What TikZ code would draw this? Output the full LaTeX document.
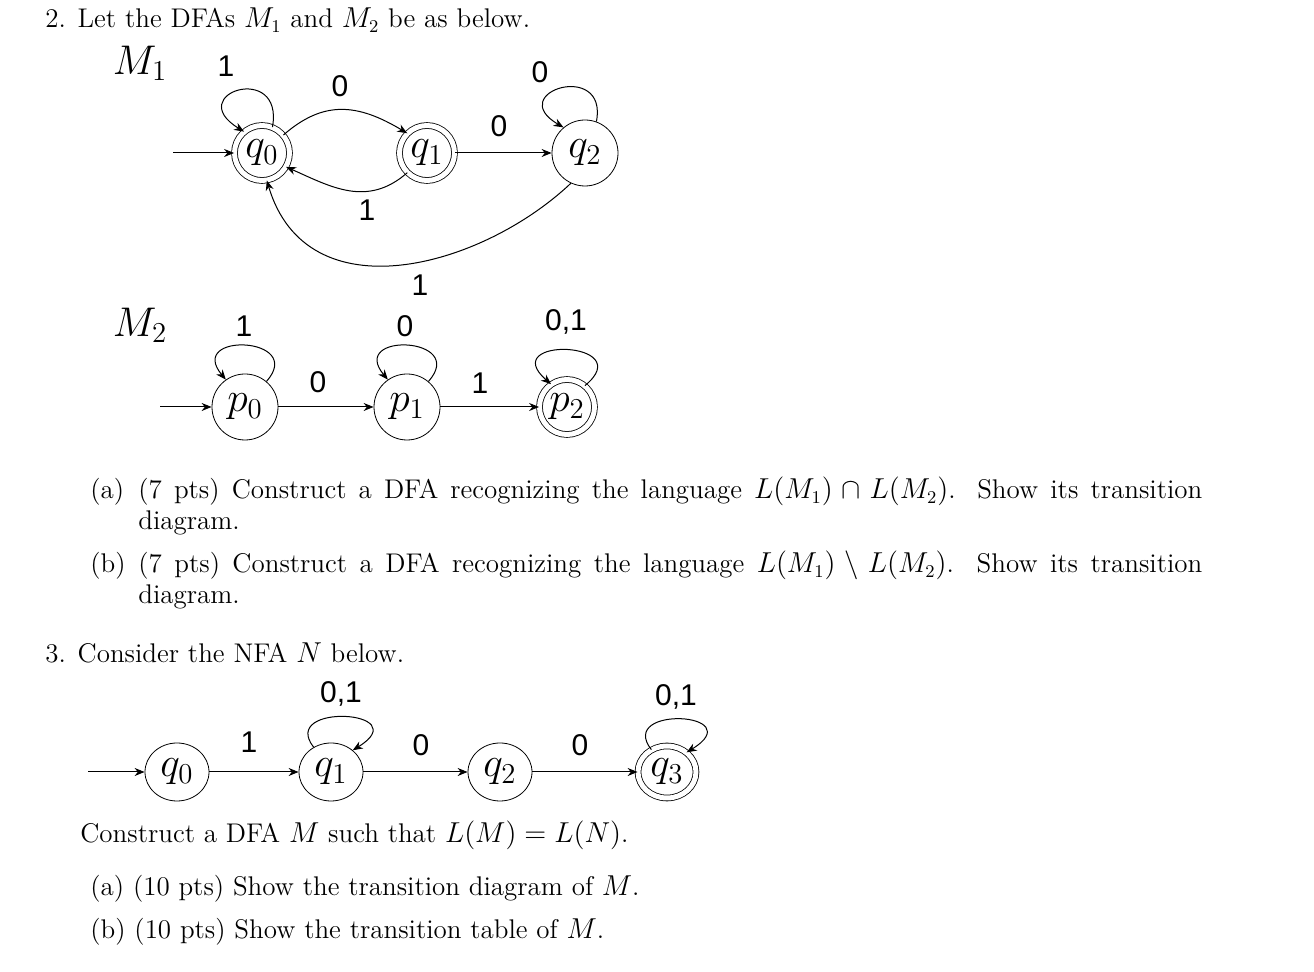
\documentclass[tikz,border=0pt]{standalone}
\usepackage{fontspec}
\newfontfamily\lab{Liberation Sans}
\usetikzlibrary{arrows.meta,shapes.geometric}
\begin{document}
\begin{tikzpicture}[x=0.5pt,y=0.5pt,
  st/.style={draw,circle,inner sep=0pt,minimum size=33pt,font=\fontsize{22}{24}\selectfont},
  acc/.style={st,double,double distance=2.5pt,minimum size=27.5pt},
  est/.style={draw,ellipse,inner sep=0pt,minimum width=32pt,minimum height=29pt,font=\fontsize{22}{24}\selectfont},
  eacc/.style={est,double,double distance=2.5pt,minimum width=29pt,minimum height=26pt},
  tr/.style={-{Stealth[length=5pt,width=4pt]},line width=0.5pt},
  lb/.style={font=\lab\fontsize{15}{17}\selectfont,inner sep=0pt},
  tx/.style={anchor=base west,inner sep=0pt,font=\fontsize{13.5}{16}\selectfont},
  big/.style={inner sep=0pt,font=\fontsize{20}{22}\selectfont}]
\useasboundingbox (0,0) rectangle (1314,-972);
% ---- texts
\node[tx] (t1) at (45,-28) {2. Let the DFAs $M_1$ and $M_2$ be as below.};
\node[big] (m1) at (140,-63) {$M_1$};
\node[big] (m2) at (140,-325) {$M_2$};
\node[tx] (a1) at (90,-499) {(a)};
\node[tx] (a2) at (138,-499) {\hbox to 532pt{(7 pts) Construct a DFA recognizing the language $L(M_1)\cap L(M_2)$. Show its transition}};
\node[tx] (a3) at (138,-530) {diagram.};
\node[tx] (b1) at (90,-573) {(b)};
\node[tx] (b2) at (138,-573) {\hbox to 532pt{(7 pts) Construct a DFA recognizing the language $L(M_1)\setminus L(M_2)$. Show its transition}};
\node[tx] (b3) at (138,-604) {diagram.};
\node[tx] (t3) at (45,-663) {3. Consider the NFA $N$ below.};
\node[tx] (c1) at (80,-843) {Construct a DFA $M$ such that $L(M)=L(N)$.};
\node[tx] (c2) at (90,-896) {(a) (10 pts) Show the transition diagram of $M$.};
\node[tx] (c3) at (90,-939) {(b) (10 pts) Show the transition table of $M$.};
% ---- M1
\node[acc] (q0) at (262,-153) {$q_0$};
\node[acc] (q1) at (427,-153) {$q_1$};
\node[st] (q2) at (585,-153) {$q_2$};
\coordinate (s1) at (173,-153);
\draw[tr] (s1) -- (q0);
\draw[tr] (q0.68) .. controls +(12,66) and +(-62,38) .. (q0.130);
\draw[tr] (q2.70) .. controls +(12,62) and +(-60,35) .. (q2.130);
\draw[tr] (q0.40) .. controls +(40,35) and +(-50,30) .. (q1.135);
\draw[tr] (q1.225) .. controls +(-40,-35) and +(45,-20) .. (q0.330);
\draw[tr] (q1) -- (q2);
\draw[tr] (q2.245) .. controls +(-90,-85) and +(40,-135) .. (q0.280);
\node[lb] (l1) at (226,-66) {1};
\node[lb] (l2) at (340,-86) {0};
\node[lb] (l3) at (499,-126) {0};
\node[lb] (l4) at (540,-72) {0};
\node[lb] (l5) at (367,-210) {1};
\node[lb] (l6) at (420,-285) {1};
% ---- M2
\node[st] (p0) at (245,-407) {$p_0$};
\node[st] (p1) at (407,-407) {$p_1$};
\node[acc] (p2) at (567,-407) {$p_2$};
\coordinate (s2) at (160,-407);
\draw[tr] (s2) -- (p0);
\draw[tr] (p0) -- (p1);
\draw[tr] (p1) -- (p2);
\foreach \n in {p0,p1}
  \draw[tr] (\n.50) .. controls +(40,45) and +(-40,48) .. (\n.125);
\draw[tr] (p2.50) .. controls +(55,45) and +(-55,48) .. (p2.125);
\node[lb] (k1) at (244,-326) {1};
\node[lb] (k2) at (318,-382) {0};
\node[lb] (k3) at (405,-326) {0};
\node[lb] (k4) at (480,-383) {1};
\node[lb] (k5) at (566,-322) {0,1};
% ---- N
\node[est] (n0) at (177,-772) {$q_0$};
\node[est] (n1) at (331,-772) {$q_1$};
\node[est] (n2) at (500,-772) {$q_2$};
\node[eacc] (n3) at (667,-772) {$q_3$};
\coordinate (s3) at (88,-772);
\draw[tr] (s3) -- (n0);
\draw[tr] (n0) -- (n1);
\draw[tr] (n1) -- (n2);
\draw[tr] (n2) -- (n3);
\foreach \n in {n1,n3}
  \draw[tr] (\n.125) .. controls +(-35,45) and +(65,40) .. (\n.45);
\node[lb] (j1) at (341,-694) {0,1};
\node[lb] (j2) at (249,-742) {1};
\node[lb] (j3) at (421,-745) {0};
\node[lb] (j4) at (580,-745) {0};
\node[lb] (j5) at (676,-697) {0,1};
\end{tikzpicture}
\end{document}
